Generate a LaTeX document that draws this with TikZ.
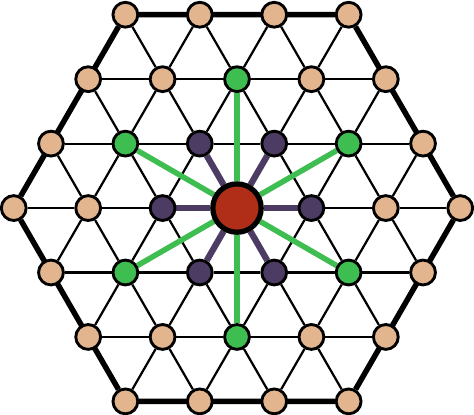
\documentclass[tikz,border=0pt]{standalone}
\usepackage{tikz}
\usetikzlibrary{backgrounds}
\definecolor{sand}{RGB}{226,181,142}
\definecolor{plum}{RGB}{76,60,100}
\definecolor{moss}{RGB}{62,190,80}
\definecolor{rust}{RGB}{176,46,24}

\begin{document}
\begin{tikzpicture}[x=2cm,y=2cm]
      \tikzset{site/.style={circle,draw,line width=2.2pt,inner sep=0pt,minimum size=19pt,fill=sand}}
      \tikzset{hub/.style={site,line width=4pt,minimum size=37pt,fill=rust}}
      \tikzset{nearsite/.style={site,fill=plum}}
      \tikzset{nextsite/.style={site,fill=moss}}
      \tikzset{bond/.style={line width=1.7pt}}
      \tikzset{rim/.style={line width=4.2pt}}
      \useasboundingbox (-3.185,-2.769) rectangle (3.185,2.796);
      % lattice sites
      \foreach \i in {-3,...,3}
        \foreach \j in {-3,...,3} {
          \pgfmathtruncatemacro\k{\i+\j}
          \pgfmathtruncatemacro\dd{\i*\i+\i*\j+\j*\j}
          \ifcase\dd \def\kind{hub}\or\def\kind{nearsite}\or\def\kind{site}\or\def\kind{nextsite}\else\def\kind{site}\fi
          \ifnum\k>-4 \ifnum\k<4
            \node[\kind] (n\i\j) at ({\i+0.5*\j},{0.866*\j}) {};
          \fi\fi
        }
      \begin{pgfonlayer}{background}
        % bonds
        \foreach \i in {-3,...,3}
          \foreach \j in {-3,...,3} {
            \pgfmathtruncatemacro\k{\i+\j}
            \pgfmathtruncatemacro\ii{\i+1}
            \pgfmathtruncatemacro\jj{\j+1}
            \pgfmathtruncatemacro\im{\i-1}
            \ifnum\k>-4 \ifnum\k<4
              \ifnum\ii<4 \ifnum\k<3 \draw[bond] (n\i\j) -- (n\ii\j); \fi\fi
              \ifnum\jj<4 \ifnum\k<3 \draw[bond] (n\i\j) -- (n\i\jj); \fi\fi
              \ifnum\jj<4 \ifnum\im>-4 \draw[bond] (n\i\j) -- (n\im\jj); \fi\fi
            \fi\fi
          }
        \foreach \p/\q in {1/1,-1/2,-2/1,-1/-1,1/-2,2/-1}
          \draw[line width=4.2pt,moss] (n00) -- (n\p\q);
        \foreach \p/\q in {1/0,0/1,-1/1,-1/0,0/-1,1/-1}
          \draw[line width=4.8pt,plum] (n00) -- (n\p\q);
        \draw[rim] (n30) -- (n03) -- (n-33) -- (n-30) -- (n0-3) -- (n3-3) -- (n30);
      \end{pgfonlayer}
    \end{tikzpicture}
\end{document}
